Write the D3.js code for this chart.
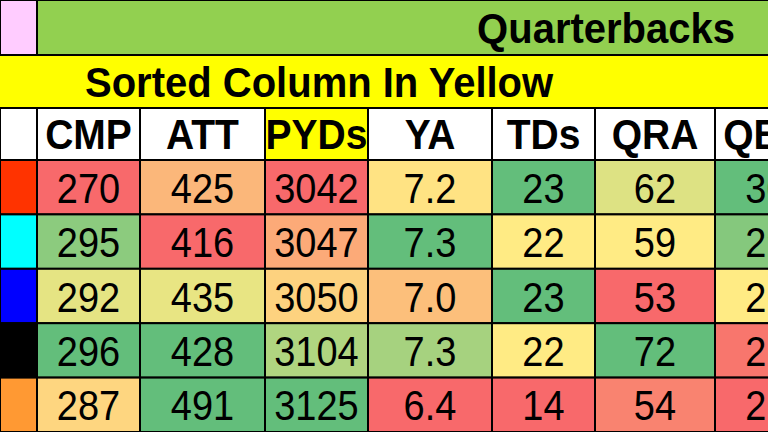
<!DOCTYPE html>
<html><head><meta charset="utf-8">
<script src="https://cdn.jsdelivr.net/npm/d3@7"></script>
<style>body{margin:0;background:#fff}svg{display:block}</style>
</head><body>
<script>
// données du tableau
const columns = ["CMP", "ATT", "PYDs", "YA", "TDs", "QRA", "QBR"];
const teamColors = ["#ff3300", "#00ffff", "#0000ff", "#000000", "#ff9933"];
const values = [
  ["270", "425", "3042", "7.2", "23", "62", "30"],
  ["295", "416", "3047", "7.3", "22", "59", "29"],
  ["292", "435", "3050", "7.0", "23", "53", "26"],
  ["296", "428", "3104", "7.3", "22", "72", "21"],
  ["287", "491", "3125", "6.4", "14", "54", "21"]
];
const cellColors = [
  ["#f8696b", "#fbb77a", "#f8696b", "#ffe383", "#63be7b", "#dde283", "#63be7b"],
  ["#8ccb7e", "#f8696b", "#fcaa78", "#63be7b", "#ffeb84", "#ffeb84", "#85c87d"],
  ["#e5e483", "#e8e583", "#fdd27f", "#fcbf7b", "#63be7b", "#f8696b", "#ffeb84"],
  ["#63be7b", "#63be7b", "#b0d580", "#a6d27f", "#ffeb84", "#63be7b", "#f8766d"],
  ["#fed680", "#63be7b", "#63be7b", "#f8696b", "#f8696b", "#f98370", "#f8696b"]
];
const title = "Quarterbacks";
const subtitle = "Sorted Column In Yellow";
const sortedColumn = "PYDs";

const W = 768, H = 432;
const colWidths = [37, 103, 125, 103, 124, 103, 120, 103];
const edges = d3.cumsum([0].concat(colWidths));
const x = i => edges[i];
const y = d3.scaleLinear().domain([0, 1, 2, 3, 8]).range([0, 55, 108, 160, 432]);

const svg = d3.select("body").append("svg").attr("width", W).attr("height", H);
const font = "'Liberation Sans', Arial, sans-serif";

function cell(x0, x1, y0, y1, fill) {
  svg.append("rect").attr("x", x0).attr("y", y0).attr("width", x1 - x0).attr("height", y1 - y0)
    .attr("fill", fill).attr("stroke", "#000").attr("stroke-width", 2);
}

// texte étiré verticalement comme dans l'original
function label(parent, tx, cy, txt, size, sy, bold, anchor) {
  const cap = 0.72 * size * sy;
  return parent.append("text")
    .attr("transform", `translate(${tx},${cy + cap / 2}) scale(1,${sy})`)
    .attr("text-anchor", anchor || "middle")
    .attr("font-family", font).attr("font-weight", bold ? "bold" : "normal")
    .attr("font-size", size).attr("fill", "#000").text(txt);
}

// ligne du titre
cell(x(0), x(1), y(0), y(1), "#ffccff");
cell(x(1), W + 5, y(0), y(1), "#92d050");
label(svg, 735, y(0.5), title, 40, 1.08, true, "end");

// sous-titre
cell(-5, W + 5, y(1), y(2), "#ffff00");
label(svg, 85, y(1.5), subtitle, 40, 1.08, true, "start");

// en-têtes
const clip = svg.append("defs");
cell(x(0), x(1), y(2), y(3), "#fff");
columns.forEach((c, j) => {
  cell(x(j + 1), x(j + 2), y(2), y(3), c === sortedColumn ? "#ffff00" : "#fff");
  clip.append("clipPath").attr("id", "c" + j).append("rect")
    .attr("x", x(j + 1) + 1).attr("y", 0).attr("width", colWidths[j + 1] - 2).attr("height", H);
  const g = svg.append("g").attr("clip-path", `url(#c${j})`);
  label(g, (x(j + 1) + x(j + 2)) / 2, y(2.5), c, 39, 1.07, true);
});

// lignes de données
values.forEach((row, i) => {
  const y0 = y(3 + i), y1 = y(4 + i);
  cell(x(0), x(1), y0, y1, teamColors[i]);
  row.forEach((v, j) => {
    cell(x(j + 1), x(j + 2), y0, y1, cellColors[i][j]);
    const g = svg.append("g").attr("clip-path", `url(#c${j})`);
    label(g, (x(j + 1) + x(j + 2)) / 2, (y0 + y1) / 2, v, 38, 1.14, false);
  });
});
</script>
</body></html>
